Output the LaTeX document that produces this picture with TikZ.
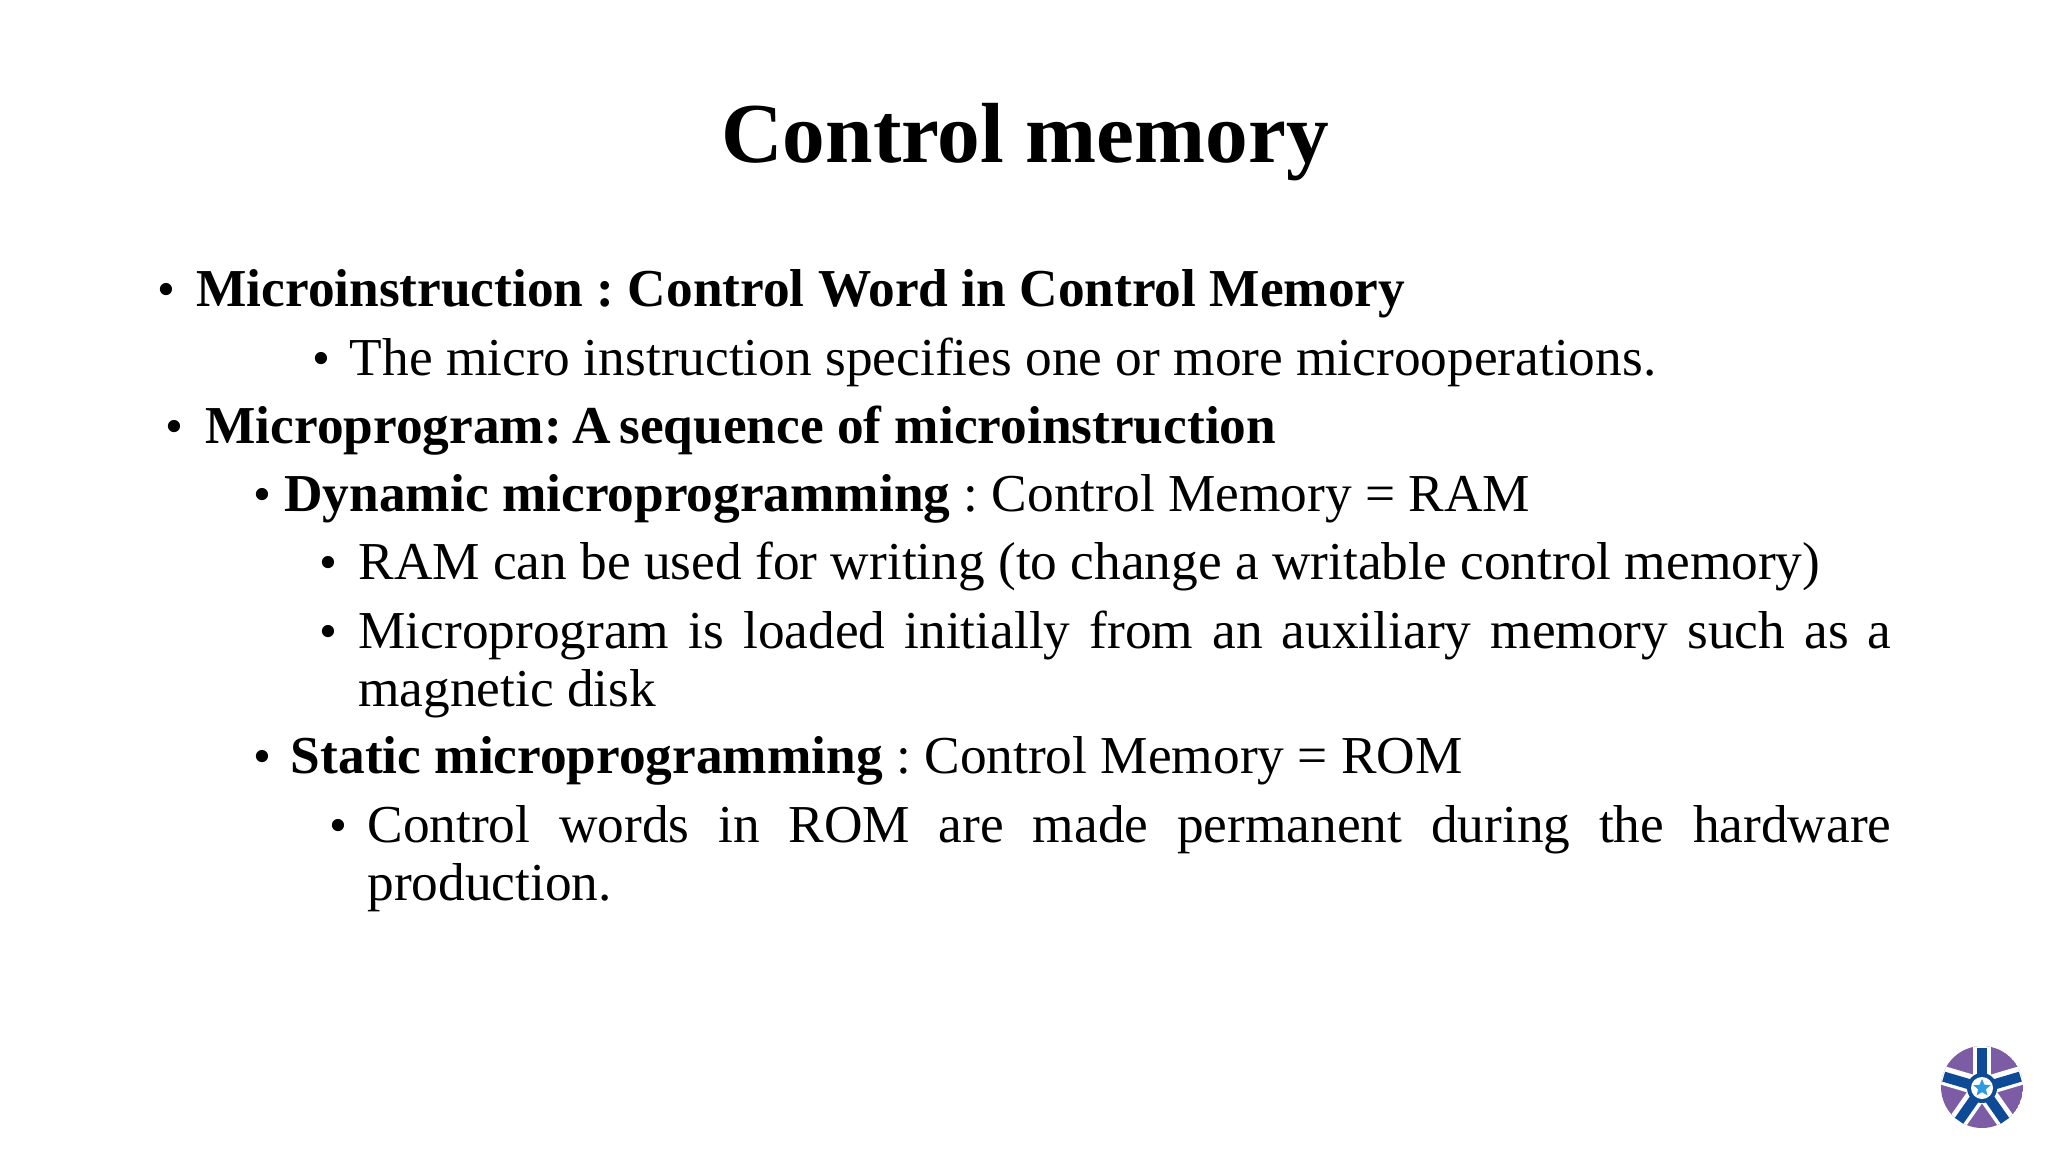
\documentclass[tikz,border=0pt]{standalone}
\usepackage{fontspec}
\setmainfont{Liberation Serif}
\usetikzlibrary{shapes.geometric}
\definecolor{logopurple}{HTML}{7D5CA6}
\definecolor{logoblue}{HTML}{0F4A96}
\definecolor{logostar}{HTML}{2E9BE0}
\hyphenpenalty=10000
\tikzset{
	slidetitle/.style={inner sep=0pt, anchor=base, font=\fontsize{40}{46}\selectfont\bfseries},
	bodytext/.style={inner sep=0pt, anchor=base west, font=\fontsize{25}{27.2}\selectfont\frenchspacing},
	dot/.style={inner sep=0pt, anchor=base, font=\fontsize{24}{27.2}\selectfont},
	arm/.style={line width=4.8pt, draw=logoblue},
	armgap/.style={line width=8.8pt, draw=white}
}
\begin{document}
\begin{tikzpicture}[x=0.46875pt, y=-0.46875pt]
	\useasboundingbox (0,0) rectangle (2048,1152);
	\fill [white] (0,0) rectangle (2048,1152);
	\node [slidetitle] (title) at (1025,163) {Control memory};
	\node [dot] (dota) at (166,307) {\textbullet};
	\node [bodytext] (itema) at (196,307) {\textbf{Microinstruction : Control Word in Control Memory}};
	\node [dot] (dotb) at (321,375) {\textbullet};
	\node [bodytext] (itemb) at (349.5,375) {The micro instruction specifies one or more microoperations.};
	\node [dot] (dotc) at (174,443) {\textbullet};
	\node [bodytext] (itemc) at (205,443) {\textbf{Microprogram:\kern-1.2pt{} A\kern-2.4pt{} sequence of microinstruction}};
	\node [dot] (dotd) at (262,511) {\textbullet};
	\node [bodytext] (itemd) at (284,511) {\textbf{Dynamic microprogramming} : Control Memory = RAM};
	\node [dot] (dote) at (328,579) {\textbullet};
	\node [bodytext] (iteme) at (358,579) {RAM can be used for writing (to change a writable control memory)};
	\node [dot] (dotf) at (328,648) {\textbullet};
	\node [bodytext] (itemf) at (358,648) {\parbox[t]{718.6pt}{Microprogram is loaded initially from an auxiliary memory such as a magnetic disk}};
	\node [dot] (dotg) at (262,773) {\textbullet};
	\node [bodytext] (itemg) at (290.5,773) {\textbf{Static microprogramming} : Control Memory = ROM};
	\node [dot] (doth) at (338,842) {\textbullet};
	\node [bodytext] (itemh) at (367,842) {\parbox[t]{714.4pt}{Control words in ROM are made permanent during the hardware production.}};
	\begin{scope}
		\clip (1982,1087) circle (41);
		\fill [logopurple] (1982,1087) circle (41);
		\foreach \ang in {125,55,-16.5,-163.5,-90}
			\draw [armgap] (1982,1087) -- ++(\ang:50);
	\end{scope}
	\foreach \ang in {125,55,-16.5,-163.5,-90}
		\draw [arm] (1982,1088) -- ++(\ang:40);
	\fill [logoblue] (1982,1088) circle (15);
	\fill [white] (1982,1088) circle (11);
	\node [star, star points=5, star point ratio=2.2, fill=logostar, inner sep=0pt, minimum size=8.5pt] (logostar) at (1982,1088) {};
\end{tikzpicture}
\end{document}
